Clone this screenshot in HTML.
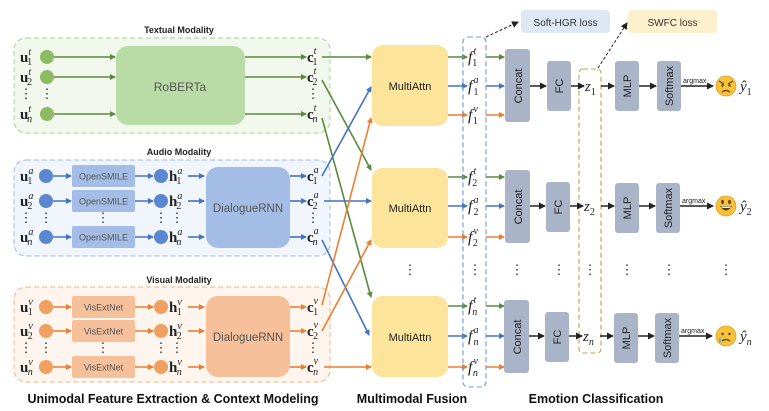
<!DOCTYPE html>
<html><head><meta charset="utf-8"><style>
html,body{margin:0;padding:0;background:#fff;}
svg{display:block;}
.m{font-family:"Liberation Serif",serif;}
.s{font-family:"Liberation Sans",sans-serif;}
</style></head><body>
<svg width="769" height="411" viewBox="0 0 769 411" xmlns="http://www.w3.org/2000/svg">
<defs>
<marker id="ag" markerWidth="6" markerHeight="6" refX="5" refY="3" orient="auto" markerUnits="userSpaceOnUse"><path d="M0,0 L6,3 L0,6z" fill="#5a8a3a"/></marker>
<marker id="ab" markerWidth="6" markerHeight="6" refX="5" refY="3" orient="auto" markerUnits="userSpaceOnUse"><path d="M0,0 L6,3 L0,6z" fill="#4472c4"/></marker>
<marker id="ao" markerWidth="6" markerHeight="6" refX="5" refY="3" orient="auto" markerUnits="userSpaceOnUse"><path d="M0,0 L6,3 L0,6z" fill="#ed7d31"/></marker>
<marker id="ak" markerWidth="7" markerHeight="7" refX="6" refY="3.5" orient="auto" markerUnits="userSpaceOnUse"><path d="M0,0 L7,3.5 L0,7z" fill="#222"/></marker>
</defs>

<!-- Modality boxes -->
<text x="179" y="33" class="s" font-size="9" font-weight="bold" text-anchor="middle" fill="#222">Textual Modality</text>
<rect x="14" y="38" width="316" height="95" rx="12" fill="#f3f8ef" stroke="#a9d18e" stroke-dasharray="5,3"/>
<text x="179" y="155" class="s" font-size="9" font-weight="bold" text-anchor="middle" fill="#222">Audio Modality</text>
<rect x="14" y="160" width="316" height="96" rx="12" fill="#f1f5fc" stroke="#9fb8e4" stroke-dasharray="5,3"/>
<text x="179" y="283" class="s" font-size="9" font-weight="bold" text-anchor="middle" fill="#222">Visual Modality</text>
<rect x="14" y="287" width="316" height="95" rx="12" fill="#fdf5ee" stroke="#f4b183" stroke-dasharray="5,3"/>

<!-- Text rows -->
<g stroke="#5a8a3a" stroke-width="1.6" marker-end="url(#ag)">
<line x1="54" y1="57" x2="115" y2="57"/><line x1="54" y1="77" x2="115" y2="77"/><line x1="54" y1="114" x2="115" y2="114"/>
<line x1="245" y1="57" x2="306" y2="57"/><line x1="245" y1="77" x2="306" y2="77"/><line x1="245" y1="114" x2="306" y2="114"/>
</g>
<g fill="#8dbb63"><circle cx="47" cy="57" r="7"/><circle cx="47" cy="77" r="7"/><circle cx="47" cy="114" r="7"/></g>
<rect x="116" y="46" width="129" height="79" rx="12" fill="#b9dba5"/>
<text x="180" y="91" class="s" font-size="12" text-anchor="middle" fill="#555">RoBERTa</text>

<!-- Audio rows -->
<g stroke="#4472c4" stroke-width="1.6" marker-end="url(#ab)">
<line x1="53" y1="176" x2="71" y2="176"/><line x1="53" y1="201" x2="71" y2="201"/><line x1="53" y1="237" x2="71" y2="237"/>
<line x1="135" y1="176" x2="153" y2="176"/><line x1="135" y1="201" x2="153" y2="201"/><line x1="135" y1="237" x2="153" y2="237"/>
<line x1="188" y1="176" x2="204" y2="176"/><line x1="188" y1="201" x2="204" y2="201"/><line x1="188" y1="237" x2="204" y2="237"/>
<line x1="290" y1="176" x2="306" y2="176"/><line x1="290" y1="201" x2="306" y2="201"/><line x1="290" y1="237" x2="306" y2="237"/>
</g>
<g fill="#5b86d0"><circle cx="46" cy="176" r="7"/><circle cx="46" cy="201" r="7"/><circle cx="46" cy="237" r="7"/>
<circle cx="161" cy="176" r="7"/><circle cx="161" cy="201" r="7"/><circle cx="161" cy="237" r="7"/></g>
<g fill="#a3bde6"><rect x="72" y="165" width="63" height="22" rx="2"/><rect x="72" y="190" width="63" height="22" rx="2"/><rect x="72" y="226" width="63" height="22" rx="2"/></g>
<g class="s" font-size="9" fill="#555" text-anchor="middle"><text x="103.5" y="179.5">OpenSMILE</text><text x="103.5" y="204.5">OpenSMILE</text><text x="103.5" y="240.5">OpenSMILE</text></g>
<rect x="206" y="167" width="84" height="81" rx="12" fill="#a3bde6"/>
<text x="248" y="212" class="s" font-size="11.5" text-anchor="middle" fill="#555">DialogueRNN</text>

<!-- Visual rows -->
<g stroke="#ed7d31" stroke-width="1.6" marker-end="url(#ao)">
<line x1="53" y1="307" x2="71" y2="307"/><line x1="53" y1="331" x2="71" y2="331"/><line x1="53" y1="367" x2="71" y2="367"/>
<line x1="135" y1="307" x2="153" y2="307"/><line x1="135" y1="331" x2="153" y2="331"/><line x1="135" y1="367" x2="153" y2="367"/>
<line x1="188" y1="307" x2="204" y2="307"/><line x1="188" y1="331" x2="204" y2="331"/><line x1="188" y1="367" x2="204" y2="367"/>
<line x1="290" y1="307" x2="306" y2="307"/><line x1="290" y1="331" x2="306" y2="331"/><line x1="290" y1="367" x2="306" y2="367"/>
</g>
<g fill="#f0a060"><circle cx="46" cy="307" r="7"/><circle cx="46" cy="331" r="7"/><circle cx="46" cy="367" r="7"/>
<circle cx="161" cy="307" r="7"/><circle cx="161" cy="331" r="7"/><circle cx="161" cy="367" r="7"/></g>
<g fill="#f6c09a"><rect x="72" y="296" width="63" height="22" rx="2"/><rect x="72" y="320" width="63" height="22" rx="2"/><rect x="72" y="356" width="63" height="22" rx="2"/></g>
<g class="s" font-size="9" fill="#555" text-anchor="middle"><text x="103.5" y="310.5">VisExtNet</text><text x="103.5" y="334.5">VisExtNet</text><text x="103.5" y="370.5">VisExtNet</text></g>
<rect x="206" y="296" width="84" height="81" rx="12" fill="#f6c09a"/>
<text x="248" y="341" class="s" font-size="11.5" text-anchor="middle" fill="#555">DialogueRNN</text>

<!-- u labels -->
<g class="m" font-size="15" font-weight="bold" fill="#222">
<text x="20" y="62">u<tspan font-size="10" font-weight="normal" font-style="italic" dy="-7">t</tspan><tspan font-size="10" font-weight="normal" dx="-4" dy="10">1</tspan></text>
<text x="20" y="82">u<tspan font-size="10" font-weight="normal" font-style="italic" dy="-7">t</tspan><tspan font-size="10" font-weight="normal" dx="-4" dy="10">2</tspan></text>
<text x="20" y="119">u<tspan font-size="10" font-weight="normal" font-style="italic" dy="-7">t</tspan><tspan font-size="10" font-weight="normal" font-style="italic" dx="-4" dy="10">n</tspan></text>
<text x="20" y="181">u<tspan font-size="10" font-weight="normal" font-style="italic" dy="-7">a</tspan><tspan font-size="10" font-weight="normal" dx="-6" dy="10">1</tspan></text>
<text x="20" y="206">u<tspan font-size="10" font-weight="normal" font-style="italic" dy="-7">a</tspan><tspan font-size="10" font-weight="normal" dx="-6" dy="10">2</tspan></text>
<text x="20" y="242">u<tspan font-size="10" font-weight="normal" font-style="italic" dy="-7">a</tspan><tspan font-size="10" font-weight="normal" font-style="italic" dx="-6" dy="10">n</tspan></text>
<text x="20" y="312">u<tspan font-size="10" font-weight="normal" font-style="italic" dy="-7">v</tspan><tspan font-size="10" font-weight="normal" dx="-5" dy="10">1</tspan></text>
<text x="20" y="336">u<tspan font-size="10" font-weight="normal" font-style="italic" dy="-7">v</tspan><tspan font-size="10" font-weight="normal" dx="-5" dy="10">2</tspan></text>
<text x="20" y="372">u<tspan font-size="10" font-weight="normal" font-style="italic" dy="-7">v</tspan><tspan font-size="10" font-weight="normal" font-style="italic" dx="-5" dy="10">n</tspan></text>
<text x="169" y="181">h<tspan font-size="10" font-weight="normal" font-style="italic" dy="-7">a</tspan><tspan font-size="10" font-weight="normal" dx="-6" dy="10">1</tspan></text>
<text x="169" y="206">h<tspan font-size="10" font-weight="normal" font-style="italic" dy="-7">a</tspan><tspan font-size="10" font-weight="normal" dx="-6" dy="10">2</tspan></text>
<text x="169" y="242">h<tspan font-size="10" font-weight="normal" font-style="italic" dy="-7">a</tspan><tspan font-size="10" font-weight="normal" font-style="italic" dx="-6" dy="10">n</tspan></text>
<text x="169" y="312">h<tspan font-size="10" font-weight="normal" font-style="italic" dy="-7">v</tspan><tspan font-size="10" font-weight="normal" dx="-5" dy="10">1</tspan></text>
<text x="169" y="336">h<tspan font-size="10" font-weight="normal" font-style="italic" dy="-7">v</tspan><tspan font-size="10" font-weight="normal" dx="-5" dy="10">2</tspan></text>
<text x="169" y="372">h<tspan font-size="10" font-weight="normal" font-style="italic" dy="-7">v</tspan><tspan font-size="10" font-weight="normal" font-style="italic" dx="-5" dy="10">n</tspan></text>
<text x="307" y="62">c<tspan font-size="10" font-weight="normal" font-style="italic" dy="-8">t</tspan><tspan font-size="10" font-weight="normal" dx="-4" dy="11">1</tspan></text>
<text x="307" y="82">c<tspan font-size="10" font-weight="normal" font-style="italic" dy="-8">t</tspan><tspan font-size="10" font-weight="normal" dx="-4" dy="11">2</tspan></text>
<text x="307" y="119">c<tspan font-size="10" font-weight="normal" font-style="italic" dy="-8">t</tspan><tspan font-size="10" font-weight="normal" font-style="italic" dx="-4" dy="11">n</tspan></text>
<text x="307" y="181">c<tspan font-size="10" font-weight="normal" font-style="italic" dy="-8">a</tspan><tspan font-size="10" font-weight="normal" dx="-6" dy="11">1</tspan></text>
<text x="307" y="206">c<tspan font-size="10" font-weight="normal" font-style="italic" dy="-8">a</tspan><tspan font-size="10" font-weight="normal" dx="-6" dy="11">2</tspan></text>
<text x="307" y="242">c<tspan font-size="10" font-weight="normal" font-style="italic" dy="-8">a</tspan><tspan font-size="10" font-weight="normal" font-style="italic" dx="-6" dy="11">n</tspan></text>
<text x="307" y="312">c<tspan font-size="10" font-weight="normal" font-style="italic" dy="-8">v</tspan><tspan font-size="10" font-weight="normal" dx="-5" dy="11">1</tspan></text>
<text x="307" y="336">c<tspan font-size="10" font-weight="normal" font-style="italic" dy="-8">v</tspan><tspan font-size="10" font-weight="normal" dx="-5" dy="11">2</tspan></text>
<text x="307" y="372">c<tspan font-size="10" font-weight="normal" font-style="italic" dy="-8">v</tspan><tspan font-size="10" font-weight="normal" font-style="italic" dx="-5" dy="11">n</tspan></text>
</g>

<!-- vertical dots -->
<g class="m" font-size="13" fill="#222" text-anchor="middle">
<text x="26" y="98">⋮</text><text x="47" y="98">⋮</text><text x="313" y="98">⋮</text>
<text x="26" y="222">⋮</text><text x="46" y="222">⋮</text><text x="103" y="222">⋮</text><text x="161" y="222">⋮</text><text x="177" y="222">⋮</text><text x="313" y="222">⋮</text>
<text x="26" y="352">⋮</text><text x="46" y="352">⋮</text><text x="103" y="352">⋮</text><text x="161" y="352">⋮</text><text x="177" y="352">⋮</text><text x="313" y="352">⋮</text>
<text x="410" y="274">⋮</text><text x="475" y="274">⋮</text><text x="517" y="274">⋮</text><text x="559" y="274">⋮</text><text x="590" y="274">⋮</text><text x="627" y="274">⋮</text><text x="669" y="274">⋮</text><text x="726" y="274">⋮</text>
</g>

<!-- crossing lines -->
<g stroke-width="1.6" fill="none">
<line x1="322" y1="57" x2="371" y2="57" stroke="#5a8a3a" marker-end="url(#ag)"/>
<line x1="322" y1="80" x2="371" y2="170" stroke="#5a8a3a" marker-end="url(#ag)"/>
<line x1="322" y1="118" x2="371" y2="297" stroke="#5a8a3a" marker-end="url(#ag)"/>
<line x1="322" y1="176" x2="371" y2="87" stroke="#4472c4" marker-end="url(#ab)"/>
<line x1="324" y1="201" x2="371" y2="201" stroke="#4472c4" marker-end="url(#ab)"/>
<line x1="322" y1="240" x2="369" y2="335" stroke="#4472c4" marker-end="url(#ab)"/>
<line x1="322" y1="305" x2="371" y2="118" stroke="#ed7d31" marker-end="url(#ao)"/>
<line x1="322" y1="331" x2="371" y2="240" stroke="#ed7d31" marker-end="url(#ao)"/>
<line x1="324" y1="367" x2="371" y2="367" stroke="#ed7d31" marker-end="url(#ao)"/>
</g>

<!-- MultiAttn -->
<g fill="#fde49b"><rect x="372" y="45" width="76" height="81" rx="11"/><rect x="372" y="168" width="76" height="80" rx="11"/><rect x="372" y="296" width="76" height="81" rx="11"/></g>
<g class="s" font-size="11" fill="#222" text-anchor="middle"><text x="410" y="90">MultiAttn</text><text x="410" y="212">MultiAttn</text><text x="410" y="341">MultiAttn</text></g>

<!-- f outputs -->
<g stroke-width="1.6">
<g stroke="#5a8a3a" marker-end="url(#ag)"><line x1="448" y1="57" x2="467" y2="57"/><line x1="486" y1="57" x2="504" y2="57"/><line x1="448" y1="177" x2="467" y2="177"/><line x1="486" y1="177" x2="504" y2="177"/><line x1="448" y1="306" x2="467" y2="306"/><line x1="486" y1="306" x2="504" y2="306"/></g>
<g stroke="#4472c4" marker-end="url(#ab)"><line x1="448" y1="86" x2="467" y2="86"/><line x1="486" y1="86" x2="504" y2="86"/><line x1="448" y1="206" x2="467" y2="206"/><line x1="486" y1="206" x2="504" y2="206"/><line x1="448" y1="336" x2="467" y2="336"/><line x1="486" y1="336" x2="504" y2="336"/></g>
<g stroke="#ed7d31" marker-end="url(#ao)"><line x1="448" y1="115" x2="467" y2="115"/><line x1="486" y1="115" x2="504" y2="115"/><line x1="448" y1="237" x2="467" y2="237"/><line x1="486" y1="237" x2="504" y2="237"/><line x1="448" y1="367" x2="467" y2="367"/><line x1="486" y1="367" x2="504" y2="367"/></g>
</g>
<g class="m" font-size="16" font-style="italic" fill="#222">
<text x="468" y="62">f<tspan font-size="10" dy="-8" dx="1">t</tspan><tspan font-size="10" font-style="normal" dx="-4" dy="12">1</tspan></text>
<text x="468" y="91">f<tspan font-size="10" dy="-8" dx="1">a</tspan><tspan font-size="10" font-style="normal" dx="-5" dy="12">1</tspan></text>
<text x="468" y="120">f<tspan font-size="10" dy="-8" dx="1">v</tspan><tspan font-size="10" font-style="normal" dx="-5" dy="12">1</tspan></text>
<text x="468" y="182">f<tspan font-size="10" dy="-8" dx="1">t</tspan><tspan font-size="10" font-style="normal" dx="-4" dy="12">2</tspan></text>
<text x="468" y="211">f<tspan font-size="10" dy="-8" dx="1">a</tspan><tspan font-size="10" font-style="normal" dx="-5" dy="12">2</tspan></text>
<text x="468" y="242">f<tspan font-size="10" dy="-8" dx="1">v</tspan><tspan font-size="10" font-style="normal" dx="-5" dy="12">2</tspan></text>
<text x="468" y="311">f<tspan font-size="10" dy="-8" dx="1">t</tspan><tspan font-size="10" dx="-4" dy="12">n</tspan></text>
<text x="468" y="341">f<tspan font-size="10" dy="-8" dx="1">a</tspan><tspan font-size="10" dx="-5" dy="12">n</tspan></text>
<text x="468" y="372">f<tspan font-size="10" dy="-8" dx="1">v</tspan><tspan font-size="10" dx="-5" dy="12">n</tspan></text>
</g>
<rect x="463" y="37" width="23" height="350" rx="5" fill="none" stroke="#6a9bd8" stroke-dasharray="5,3" stroke-width="1.1"/>

<!-- Loss boxes -->
<rect x="521" y="10" width="89" height="23" rx="4" fill="#dde8f4"/>
<text x="565.5" y="26" class="s" font-size="10" text-anchor="middle" fill="#333">Soft-HGR loss</text>
<rect x="628" y="10" width="89" height="23" rx="4" fill="#fdf0cc"/>
<text x="672.5" y="26" class="s" font-size="10" text-anchor="middle" fill="#333">SWFC loss</text>
<g stroke="#222" stroke-width="1" stroke-dasharray="3,2" marker-end="url(#ak)"><line x1="486" y1="37" x2="518" y2="22"/><line x1="598" y1="68" x2="627" y2="23"/></g>
<rect x="579" y="69" width="22" height="284" rx="4" fill="none" stroke="#c9a040" stroke-dasharray="5,3" stroke-width="1.1"/>

<!-- Classification rows -->
<g fill="#aab4c8">
<rect x="505" y="49" width="25" height="73" rx="3"/><rect x="505" y="170" width="25" height="73" rx="3"/><rect x="504" y="300" width="25" height="73" rx="3"/>
<rect x="547" y="61" width="24" height="50" rx="3"/><rect x="546" y="182" width="24" height="50" rx="3"/><rect x="545" y="312" width="24" height="50" rx="3"/>
<rect x="615" y="61" width="24" height="50" rx="3"/><rect x="615" y="183" width="24" height="50" rx="3"/><rect x="614" y="313" width="24" height="50" rx="3"/>
<rect x="657" y="61" width="24" height="50" rx="3"/><rect x="656" y="183" width="24" height="50" rx="3"/><rect x="655" y="313" width="24" height="50" rx="3"/>
</g>
<g class="s" font-size="11" fill="#222" text-anchor="middle">
<text transform="translate(522,86) rotate(-90)">Concat</text><text transform="translate(522,207) rotate(-90)">Concat</text><text transform="translate(521,337) rotate(-90)">Concat</text>
<text transform="translate(563,86) rotate(-90)">FC</text><text transform="translate(562,207) rotate(-90)">FC</text><text transform="translate(561,337) rotate(-90)">FC</text>
<text transform="translate(631,86) rotate(-90)">MLP</text><text transform="translate(631,208) rotate(-90)">MLP</text><text transform="translate(630,338) rotate(-90)">MLP</text>
<text transform="translate(673,86) rotate(-90)">Softmax</text><text transform="translate(672,208) rotate(-90)">Softmax</text><text transform="translate(671,338) rotate(-90)">Softmax</text>
</g>
<g stroke="#222" stroke-width="1.5" marker-end="url(#ak)">
<line x1="530" y1="86" x2="546" y2="86"/><line x1="530" y1="206" x2="545" y2="206"/><line x1="529" y1="336" x2="544" y2="336"/>
<line x1="571" y1="86" x2="584" y2="86"/><line x1="570" y1="206" x2="583" y2="206"/><line x1="569" y1="336" x2="582" y2="336"/>
<line x1="601" y1="86" x2="614" y2="86"/><line x1="601" y1="206" x2="614" y2="206"/><line x1="600" y1="336" x2="613" y2="336"/>
<line x1="639" y1="86" x2="656" y2="86"/><line x1="639" y1="206" x2="655" y2="206"/><line x1="638" y1="336" x2="654" y2="336"/>
<line x1="681" y1="86" x2="713" y2="86"/><line x1="680" y1="206" x2="713" y2="206"/><line x1="679" y1="336" x2="712" y2="336"/>
</g>
<g class="s" font-size="7" fill="#222"><text x="683" y="83">argmax</text><text x="682" y="203">argmax</text><text x="681" y="333">argmax</text></g>
<g class="m" font-size="15" font-style="italic" fill="#222">
<text x="585" y="91">z<tspan font-size="10" font-style="normal" dy="4">1</tspan></text>
<text x="584" y="211">z<tspan font-size="10" font-style="normal" dy="4">2</tspan></text>
<text x="583" y="341">z<tspan font-size="10" dy="4">n</tspan></text>
<text x="740" y="91">ŷ<tspan font-size="10" font-style="normal" dy="4">1</tspan></text>
<text x="740" y="211">ŷ<tspan font-size="10" font-style="normal" dy="4">2</tspan></text>
<text x="740" y="341">ŷ<tspan font-size="10" dy="4">n</tspan></text>
</g>
<!-- emojis -->
<g>
<circle cx="726" cy="86" r="10" fill="#f7c23a" stroke="#e0a020" stroke-width="0.8"/>
<path d="M719,81 L724,84 M733,81 L728,84" stroke="#5a3a10" stroke-width="1.2"/>
<circle cx="722.5" cy="85.5" r="1.2" fill="#5a3a10"/><circle cx="729.5" cy="85.5" r="1.2" fill="#5a3a10"/>
<path d="M722,92 Q726,89 730,92" stroke="#5a3a10" stroke-width="1.3" fill="none"/>
<circle cx="726" cy="206" r="10" fill="#f7c23a" stroke="#e0a020" stroke-width="0.8"/>
<ellipse cx="722.5" cy="202" rx="1.3" ry="2.2" fill="#5a3a10"/><ellipse cx="729.5" cy="202" rx="1.3" ry="2.2" fill="#5a3a10"/>
<path d="M720,206 Q726,215 732,206 Z" fill="#5a3a10"/><path d="M721,206.5 L731,206.5 L730,208 L722,208Z" fill="#fff"/>
<circle cx="726" cy="336" r="10" fill="#f7c23a" stroke="#e0a020" stroke-width="0.8"/>
<circle cx="722.5" cy="334" r="1.2" fill="#5a3a10"/><circle cx="729.5" cy="334" r="1.2" fill="#5a3a10"/>
<path d="M722,341 Q726,338 730,341" stroke="#5a3a10" stroke-width="1.2" fill="none"/>
<path d="M720,337 Q718,341 720,343 Q722,341 720,337Z" fill="#5aa8e8"/>
</g>

<!-- Bottom titles -->
<g class="s" font-size="12.5" font-weight="bold" fill="#111" text-anchor="middle">
<text x="173" y="403">Unimodal Feature Extraction &amp; Context Modeling</text>
<text x="412" y="403">Multimodal Fusion</text>
<text x="596" y="403">Emotion Classification</text>
</g>
</svg>
</body></html>
